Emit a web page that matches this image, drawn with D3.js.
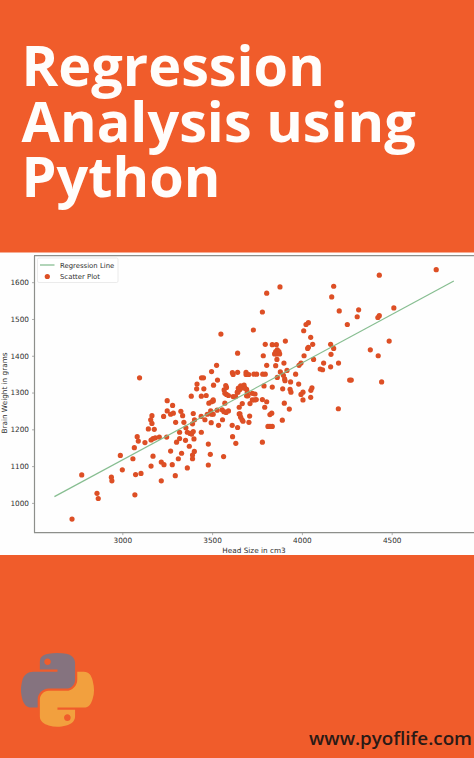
<!DOCTYPE html>
<html><head><meta charset="utf-8">
<script src="https://cdnjs.cloudflare.com/ajax/libs/d3/7.8.5/d3.min.js"></script>
<style>html,body{margin:0;padding:0;background:#f05c2b;overflow:hidden}svg{display:block}</style>
</head><body><svg id="c" width="474" height="758"></svg>
<script>
const titleLines = ["Regression","Analysis using","Python"];
const footerText = "www.pyoflife.com";
const xTicks = [3000,3500,4000,4500];
const yTicks = [1000,1100,1200,1300,1400,1500,1600];
const xLabel = "Head Size in cm3";
const yLabel = "Brain Weight in grams";
const legendLabels = ["Regression Line","Scatter Plot"];
const lineX = [2622,4846];
const lineY = [1017,1603];
const headSize = [2720,2774,2859,2866,2939,2942,2989,3000,3059,3067,3070,3074,3104,3083,3089,3126,3145,3158,3165,3165,3178,3160,3171,3184,3206,3247,3160,3171,3217,3232,3217,3278,3295,3269,3312,3330,3362,3302,3319,3352,3373,3401,3391,3391,3479,3490,3479,3564,3230,3250,3269,3284,3297,3326,3336,3343,3354,3319,3362,3377,3386,3395,3399,3391,3402,3395,3440,3439,3460,3473,3492,3497,3506,3495,3528,3556,3566,3578,3591,3558,3536,3612,3614,3632,3642,3571,3482,3497,3506,3250,3280,3651,3651,
3096,3549,3642,3497,3525,3530,3441,3452,3416,3414,3454,3508,3384,3440,3467,3506,3576,3567,3571,3580,3591,3617,3613,3617,3642,3646,3640,3580,
4748,4431,4177,3878,3804,4166,3780,4208,4316,4308,4512,4431,4423,4253,4036,4023,4010,3730,4049,3908,3796,3835,3858,4060,4036,4032,4160,4177,4486,4381,4425,4162,3785,3863,3854,3872,3859,3876,3848,3861,4012,4065,3900,3804,3854,3995,3984,4121,4204,4160,4102,4115,3917,3880,3965,3689,3689,3704,3733,3748,3782,3796,3897,3863,3904,3906,3937,4266,4275,4444,3982,3789,3835,3893,3934,3939,4056,4050,4006,3995,4049,4006,3902,3780,3804,3724,3737,3746,3711,3668,3793,3930,4203,
3659,3678,3668,3655,3692,3683,3644,3696,3724,3739,3692,3700,3631,
3655,3709,3832,3822,3659,3667,3672,3705,3891,3811,3822,3835,3780];
const brainWeight = [956,1076,1026,1012,1070,1060,1129,1090,1120,1150,1022,1077,1080,1180,1168,1164,1201,1226,1237,1216,1200,1171,1175,1177,1179,1179,1100,1127,1111,1104,1060,1104,1074,1141,1120,1135,1095,1165,1175,1170,1154,1140,1130,1120,1160,1132,1103,1126,1235,1250,1241,1244,1219,1249,1237,1219,1204,1192,1192,1189,1187,1194,1174,1215,1226,1243,1192,1235,1226,1241,1250,1241,1241,1218,1252,1253,1248,1246,1250,1226,1211,1211,1180,1162,1205,1271,1271,1275,1277,1278,1265,1260,1242,
1340,1459,1407,1357,1374,1334,1340,1340,1323,1310,1310,1320,1290,1290,1292,1280,1319,1307,1298,1295,1292,1289,1354,1349,1355,1312,1301,1314,
1634,1619,1589,1587,1570,1560,1519,1522,1525,1506,1530,1509,1504,1485,1490,1485,1468,1470,1450,1440,1431,1430,1430,1431,1423,1420,1431,1420,1440,1416,1400,1404,1400,1416,1411,1411,1405,1405,1405,1390,1400,1390,1380,1374,1373,1380,1374,1380,1380,1370,1364,1362,1360,1356,1350,1355,1349,1349,1350,1350,1350,1350,1347,1341,1337,1332,1329,1334,1334,1329,1323,1318,1315,1310,1309,1301,1313,1306,1301,1295,1287,1280,1271,1281,1275,1280,1280,1281,1270,1270,1260,1255,1256,
1318,1320,1313,1308,1309,1312,1301,1301,1298,1296,1291,1291,1289,
1242,1236,1244,1240,1233,1226,1222,1219,1225,1208,1208,1208,1165];

const W=474,H=758;
const svg=d3.select("#c");
const orange="#f05c2b";
svg.append("rect").attr("width",W).attr("height",H).attr("fill",orange);

// title
const tg=svg.append("g").attr("font-family","'Open Sans'").attr("font-weight",700).attr("font-size",55.8).attr("fill","#fffdfb");
const baselines=[86,141.5,197];
tg.selectAll("text").data(titleLines).join("text").attr("x",21.5).attr("y",(d,i)=>baselines[i]).text(d=>d);

// white plate
svg.append("rect").attr("x",0).attr("y",252.5).attr("width",W).attr("height",302.5).attr("fill","#fefefe");

const x=d3.scaleLinear().domain([2511,5131]).range([34.5,505]);
const y=d3.scaleLinear().domain([919,1672]).range([532.7,255.7]);

const clip=svg.append("clipPath").attr("id","pl");
clip.append("rect").attr("x",34.5).attr("y",255.7).attr("width",W-34.5).attr("height",277);

const font="'DejaVu Sans'";
const gx=svg.append("g").attr("transform","translate(0,532.7)").call(d3.axisBottom(x).tickValues(xTicks).tickFormat(d3.format("d")).tickSize(2.5).tickPadding(3));
const gy=svg.append("g").attr("transform","translate(34.5,0)").call(d3.axisLeft(y).tickValues(yTicks).tickFormat(d3.format("d")).tickSize(2.5).tickPadding(3));
[gx,gy].forEach(g=>{
  g.attr("font-family",font).attr("font-size",7.3);
  g.selectAll("text").attr("fill","#2f2f2f");
  g.selectAll(".tick line").attr("stroke","#777").attr("stroke-width",.6);
  g.select(".domain").remove();
});
const sp=svg.append("g").attr("fill","none").attr("stroke","#8d8f8b").attr("stroke-width",1.2);
sp.append("line").attr("x1",34.5).attr("x2",34.5).attr("y1",255.7).attr("y2",532.7);
sp.append("line").attr("x1",34).attr("x2",W).attr("y1",532.7).attr("y2",532.7);
sp.append("line").attr("x1",34).attr("x2",W).attr("y1",255.7).attr("y2",255.7);

const pts=d3.range(headSize.length).map(i=>({x:headSize[i],y:brainWeight[i]}));
const plot=svg.append("g").attr("clip-path","url(#pl)");
plot.append("g").selectAll("circle").data(pts).join("circle")
  .attr("cx",d=>x(d.x)).attr("cy",d=>y(d.y)).attr("r",2.6).attr("fill","#dd4f25");
plot.append("path").datum(lineX.map((v,i)=>[v,lineY[i]]))
  .attr("d",d3.line().x(d=>x(d[0])).y(d=>y(d[1])))
  .attr("fill","none").attr("stroke","#7fb98a").attr("stroke-width",1.2).attr("opacity",.95);

// axis labels
svg.append("text").attr("x",254).attr("y",553).attr("text-anchor","middle").attr("font-family",font).attr("font-size",7.3).attr("fill","#2f2f2f").text(xLabel);
svg.append("text").attr("transform","translate(7,393) rotate(-90)").attr("text-anchor","middle").attr("font-family",font).attr("font-size",7.3).attr("fill","#2f2f2f").text(yLabel);

// legend
const lg=svg.append("g");
lg.append("rect").attr("x",37.5).attr("y",258).attr("width",80.5).attr("height",24.5).attr("rx",1.5).attr("fill","#fff").attr("stroke","#e2e2e2").attr("stroke-width",.7);
lg.append("line").attr("x1",40).attr("x2",54.5).attr("y1",265).attr("y2",265).attr("stroke","#7fb98a").attr("stroke-width",1.2);
lg.append("circle").attr("cx",47.3).attr("cy",276.5).attr("r",2.6).attr("fill","#dd4f25");
lg.selectAll("text").data(legendLabels).join("text").attr("x",60).attr("y",(d,i)=>[267.7,278.5][i]).attr("font-family",font).attr("font-size",6.9).attr("fill","#2f2f2f").text(d=>d);

// python logo
const logo=svg.append("g").attr("transform","translate(21,653) scale(0.657)");
logo.append("path").attr("fill-rule","evenodd").attr("fill","#85737f").attr("d","M54.919,0.001 C50.335,0.022 45.958,0.413 42.106,1.095 C30.760,3.099 28.700,7.295 28.700,15.032 L28.700,25.250 L55.513,25.250 L55.513,28.656 L28.700,28.656 L18.637,28.656 C10.845,28.656 4.022,33.340 1.888,42.250 C-0.574,52.463 -0.683,58.836 1.888,69.500 C3.793,77.438 8.345,83.094 16.138,83.094 L25.356,83.094 L25.356,70.844 C25.356,61.994 33.013,54.188 42.106,54.188 L68.888,54.188 C76.342,54.188 82.294,48.050 82.294,40.563 L82.294,15.032 C82.294,7.766 76.164,2.308 68.888,1.095 C64.282,0.328 59.503,-0.020 54.919,0.001 Z M40.419,8.219 C43.188,8.219 45.450,10.518 45.450,13.344 C45.450,16.160 43.188,18.438 40.419,18.438 C37.639,18.438 35.388,16.160 35.388,13.344 C35.388,10.518 37.639,8.219 40.419,8.219 Z");
logo.append("path").attr("fill-rule","evenodd").attr("fill","#f2a03e").attr("d","M85.638,28.656 L85.638,40.563 C85.638,49.794 77.812,57.563 68.888,57.563 L42.106,57.563 C34.770,57.563 28.700,63.841 28.700,71.188 L28.700,96.719 C28.700,103.985 35.019,108.259 42.106,110.344 C50.594,112.840 58.733,113.291 68.888,110.344 C75.638,108.389 82.294,104.456 82.294,96.719 L82.294,86.500 L55.513,86.500 L55.513,83.094 L82.294,83.094 L95.700,83.094 C103.493,83.094 106.397,77.658 109.106,69.500 C111.905,61.102 111.786,53.025 109.106,42.250 C107.181,34.492 103.503,28.656 95.700,28.656 L85.638,28.656 Z M70.575,93.313 C73.354,93.313 75.606,95.590 75.606,98.407 C75.606,101.233 73.354,103.532 70.575,103.532 C67.806,103.532 65.544,101.233 65.544,98.407 C65.544,95.590 67.806,93.313 70.575,93.313 Z");

// footer
svg.append("text").attr("x",309).attr("y",745).attr("font-family","'Open Sans'").attr("font-weight",600).attr("font-size",18.8).attr("fill","#2a1a16").text(footerText);
</script></body></html>
